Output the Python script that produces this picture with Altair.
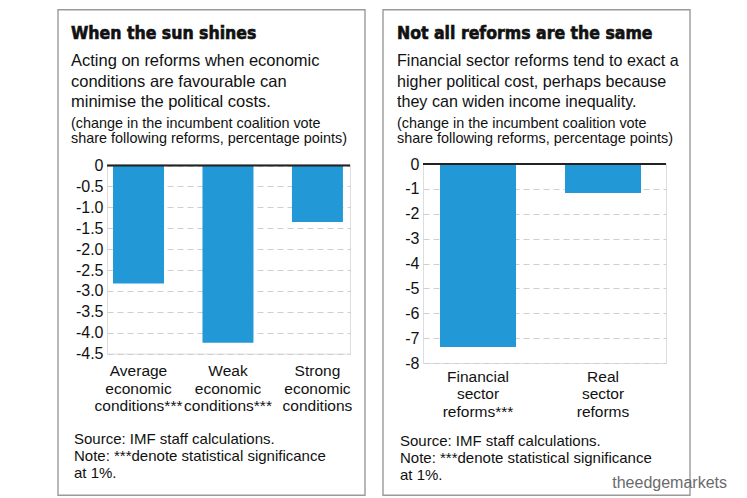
import altair as alt
import pandas as pd

# ---- data ----
left_cats = ["Average\neconomic\nconditions***", "Weak\neconomic\nconditions***", "Strong\neconomic\nconditions"]
left_vals = [-2.82, -4.24, -1.35]
right_cats = ["Financial\nsector\nreforms***", "Real\nsector\nreforms"]
right_vals = [-7.36, -1.17]
left_ticks = [0, -0.5, -1.0, -1.5, -2.0, -2.5, -3.0, -3.5, -4.0, -4.5]
right_ticks = [0, -1, -2, -3, -4, -5, -6, -7, -8]

left_title = "When the sun shines"
left_sub = ["Acting on reforms when economic", "conditions are favourable can", "minimise the political costs."]
right_title = "Not all reforms are the same"
right_sub = ["Financial sector reforms tend to exact a", "higher political cost, perhaps because", "they can widen income inequality."]
unit_note = ["(change in the incumbent coalition vote", "share following reforms, percentage points)"]
source_note = ["Source: IMF staff calculations.", "Note: ***denote statistical significance", "at 1%."]
watermark = "theedgemarkets"

BAR = "#2299d6"
FONT = "Liberation Sans, Arial, Helvetica, sans-serif"
TFONT = "DejaVu Sans Condensed, Liberation Sans, sans-serif"
one = pd.DataFrame({"k": [0]})

FRAME_TOP = -154.2
FRAME_BOTTOM = 331.3


def panel(cats, vals, ticks, dom, height, pin, pout, palign, fmt, title, sub,
          fx, tx, ty, lab_pad, src_y, sub_size, wm=False):
    df = pd.DataFrame({"cat": cats, "val": vals})
    W = 243
    bars = alt.Chart(df).mark_bar(color=BAR).encode(
        x=alt.X("cat:N", sort=cats, title=None,
                scale=alt.Scale(paddingInner=pin, paddingOuter=pout, align=palign),
                axis=alt.Axis(labelExpr="split(datum.label, '\\n')", labelAngle=0,
                              labelFont=FONT, labelFontSize=15.5, labelLineHeight=17.5,
                              labelColor="#111", labelPadding=lab_pad, ticks=False,
                              domain=False, grid=False, labelBaseline="top")),
        y=alt.Y("val:Q", title=None,
                scale=alt.Scale(domain=dom, nice=False, zero=False),
                axis=alt.Axis(values=ticks, tickCount=40, labelExpr=fmt, labelFont=FONT,
                              labelFontSize=16, labelColor="#111", labelPadding=4,
                              labelOverlap=False, labelBound=False,
                              ticks=False, domain=False, grid=True,
                              gridDash=[6, 4], gridColor="#cfcfcf", gridWidth=1)),
    )
    zero = alt.Chart(one).mark_rule(color="#222", strokeWidth=2).encode(y=alt.datum(0))
    frame = alt.Chart(one).mark_rect(fill=None, stroke="#9a9a9a", strokeWidth=1.4).encode(
        x=alt.value(fx), x2=alt.value(fx + 307),
        y=alt.value(FRAME_TOP), y2=alt.value(FRAME_BOTTOM),
    )
    head = alt.Chart(one).mark_text(font=TFONT, fontSize=17.5, fontWeight="bold",
                                    stroke="#111", strokeWidth=0.6,
                                    align="left", baseline="alphabetic", color="#111").encode(
        x=alt.value(tx[0]), y=alt.value(ty[0]), text=alt.value(title))
    subt = alt.Chart(one).mark_text(font=FONT, fontSize=sub_size, lineHeight=20.5,
                                    align="left", baseline="alphabetic", color="#111").encode(
        x=alt.value(tx[0]), y=alt.value(ty[1]), text=alt.value(sub))
    unit = alt.Chart(one).mark_text(font=FONT, fontSize=14.4, lineHeight=15.5,
                                    align="left", baseline="alphabetic", color="#111").encode(
        x=alt.value(tx[0]), y=alt.value(ty[2]), text=alt.value(unit_note))
    src = alt.Chart(one).mark_text(font=FONT, fontSize=15, lineHeight=17,
                                   align="left", baseline="alphabetic", color="#111").encode(
        x=alt.value(tx[1]), y=alt.value(src_y), text=alt.value(source_note))
    layers = [frame, bars, zero, head, subt, unit, src]
    if wm:
        layers.append(alt.Chart(one).mark_text(font=FONT, fontSize=16, fontWeight=300,
                                               align="right", baseline="alphabetic",
                                               color="#6a6a6a").encode(
            x=alt.value(304), y=alt.value(324.3), text=alt.value(watermark)))
    return alt.layer(*layers).properties(width=W, height=height)


left = panel(left_cats, left_vals, left_ticks, [-4.5, 0.038], 189.6, 0.43, 0.073, 0.46,
             "datum.value == 0 ? '0' : '-' + format(abs(datum.value), '.1f')",
             left_title, left_sub, -49, (-36, -33), (-125.2, -97.7, -36.2), 10, 280.3,
             16.5)
right = panel(right_cats, right_vals, right_ticks, [-8, 0], 199, 0.392, 0.168, 0.405,
              "datum.value == 0 ? '0' : '-' + format(abs(datum.value), 'd')",
              right_title, right_sub, -40, (-26, -23), (-125.2, -97.7, -36.2), 6, 282.3,
              16.1, wm=True)

chart = alt.hconcat(left, right, spacing=14).properties(
    padding={"left": 48, "top": 0, "right": 5, "bottom": 0}
).configure_view(stroke=None).configure(background="white")

chart.save("out.html", embed_options={"renderer": "svg", "actions": False})
